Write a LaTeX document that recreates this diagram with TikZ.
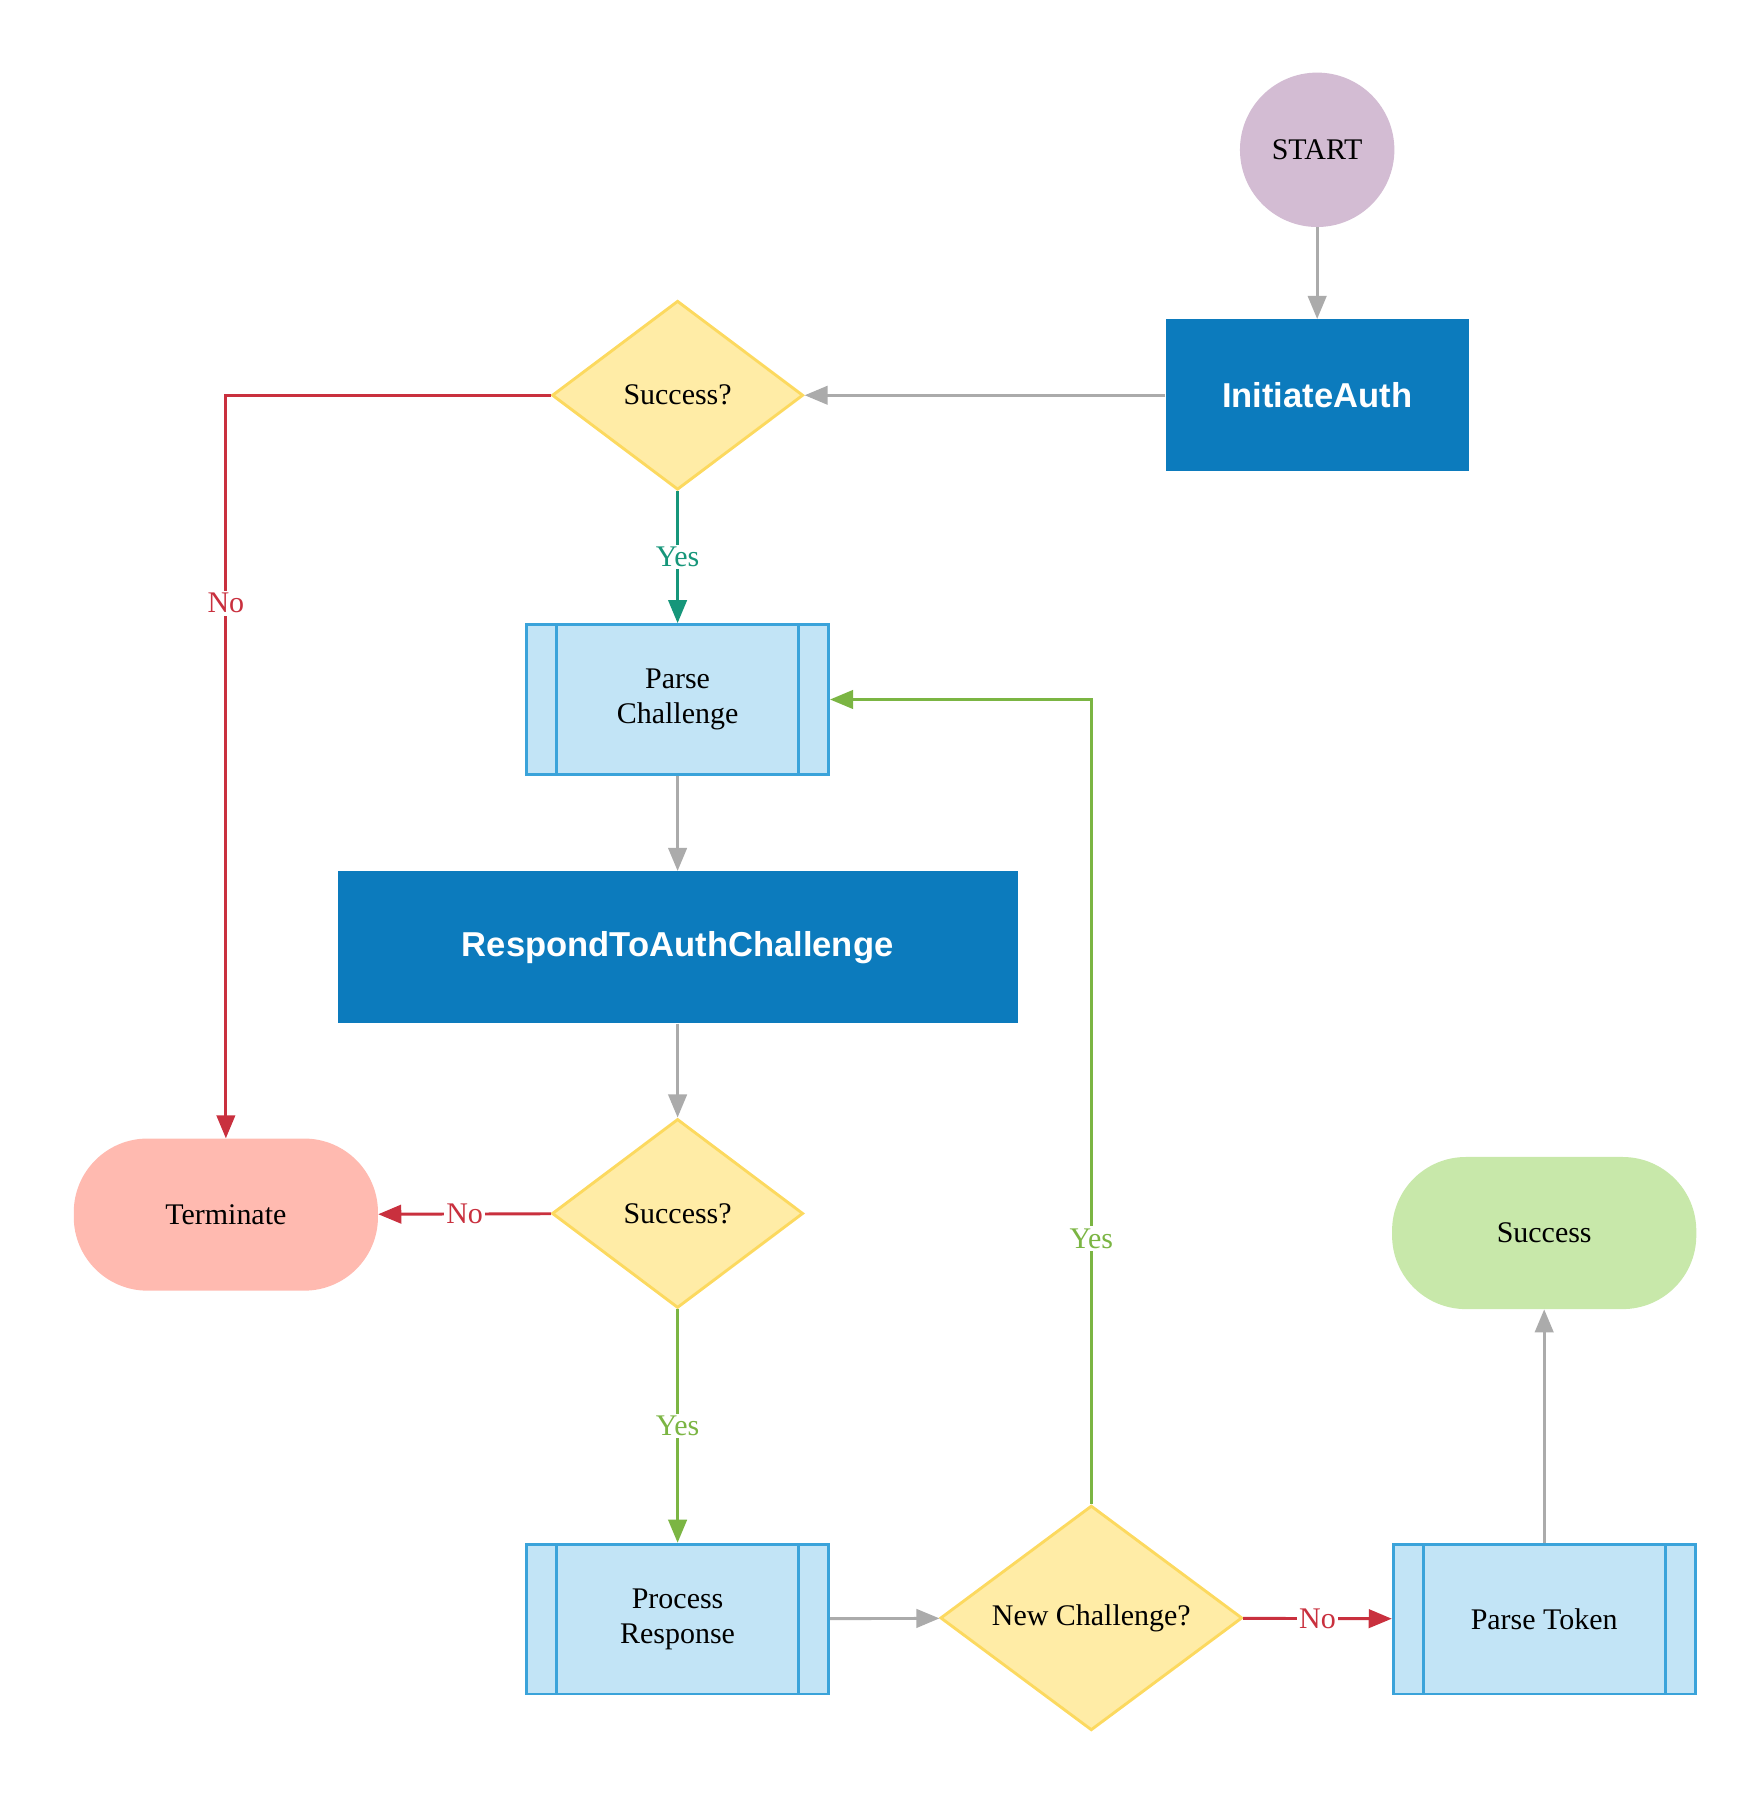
\documentclass[tikz,border=0pt]{standalone}
\usepackage{fontspec}
\setmainfont{Liberation Serif}
\newfontfamily\sansb{Liberation Sans}
\usetikzlibrary{shapes.geometric,arrows.meta}
\definecolor{startc}{HTML}{D3BCD3}
\definecolor{apic}{HTML}{0C7BBD}
\definecolor{decf}{HTML}{FFECA6}
\definecolor{decd}{HTML}{FCD95F}
\definecolor{subf}{HTML}{C2E4F6}
\definecolor{subd}{HTML}{3AA3DA}
\definecolor{termf}{HTML}{FFBAB0}
\definecolor{succf}{HTML}{C8E8AA}
\definecolor{grayc}{HTML}{ABABAB}
\definecolor{redc}{HTML}{C9303E}
\definecolor{tealc}{HTML}{16967A}
\definecolor{greenc}{HTML}{7BB543}
\begin{document}
\begin{tikzpicture}[x=1pt,y=-1pt,
  txt/.style={font=\fontsize{26}{30}\selectfont},
  api/.style={fill=apic,draw=none,minimum width=263pt,minimum height=132pt,text=white,font=\sansb\bfseries\fontsize{30}{34}\selectfont},
  dec/.style={diamond,fill=decf,draw=decd,line width=2.5pt,aspect=1.33,inner sep=0pt,txt},
  sub/.style={fill=subf,draw=subd,line width=2.5pt,minimum width=262pt,minimum height=130pt,align=center,txt,
    path picture={\draw[subd,line width=2.5pt] ([xshift=26pt]path picture bounding box.north west)--([xshift=26pt]path picture bounding box.south west)
      ([xshift=-26pt]path picture bounding box.north east)--([xshift=-26pt]path picture bounding box.south east);}},
  term/.style={rounded corners=64pt,draw=none,minimum width=264pt,minimum height=132pt,txt},
  e/.style={line width=2.5pt,-{Triangle[length=20pt,width=16pt]}},
  lab/.style={fill=white,inner sep=2pt,txt}]
\useasboundingbox (0,0) rectangle (1530,1562);
\node[circle,fill=startc,minimum size=134pt,txt] (start) at (1143,130) {START};
\node[api] (ia) at (1143,343) {InitiateAuth};
\node[dec,minimum width=218pt,minimum height=164pt] (d1) at (588,343) {Success?};
\node[sub] (pc) at (588,607) {Parse\\Challenge};
\node[api,minimum width=590pt] (rc) at (588,822) {RespondToAuthChallenge};
\node[dec,minimum width=218pt,minimum height=164pt] (d2) at (588,1053) {Success?};
\node[term,fill=termf] (tm) at (196,1054) {Terminate};
\node[sub] (pr) at (588,1405) {Process\\Response};
\node[dec,minimum width=262pt,minimum height=195pt] (nc) at (947,1404) {New Challenge?};
\node[sub] (pt) at (1340,1405) {Parse Token};
\node[term,fill=succf] (sc) at (1340,1070) {Success};
\coordinate (c1) at (196,343);
\coordinate (c2) at (947,607);
\draw[e,grayc] (start)--(ia);
\draw[e,grayc] (ia)--(d1);
\draw[e,redc] (d1.west)--(c1)--node[lab,pos=0.28,text=redc]{No}(tm.north);
\draw[e,tealc] (d1)--node[lab,text=tealc]{Yes}(pc);
\draw[e,grayc] (pc)--(rc);
\draw[e,grayc] (rc)--(d2);
\draw[e,redc] (d2)--node[lab,text=redc]{No}(tm);
\draw[e,greenc] (d2)--node[lab,text=greenc]{Yes}(pr);
\draw[e,grayc] (pr)--(nc);
\draw[e,greenc] (nc.north)--node[lab,pos=0.33,text=greenc]{Yes}(c2)--(pc.east);
\draw[e,redc] (nc)--node[lab,text=redc]{No}(pt);
\draw[e,grayc] (pt)--(sc);
\end{tikzpicture}
\end{document}
